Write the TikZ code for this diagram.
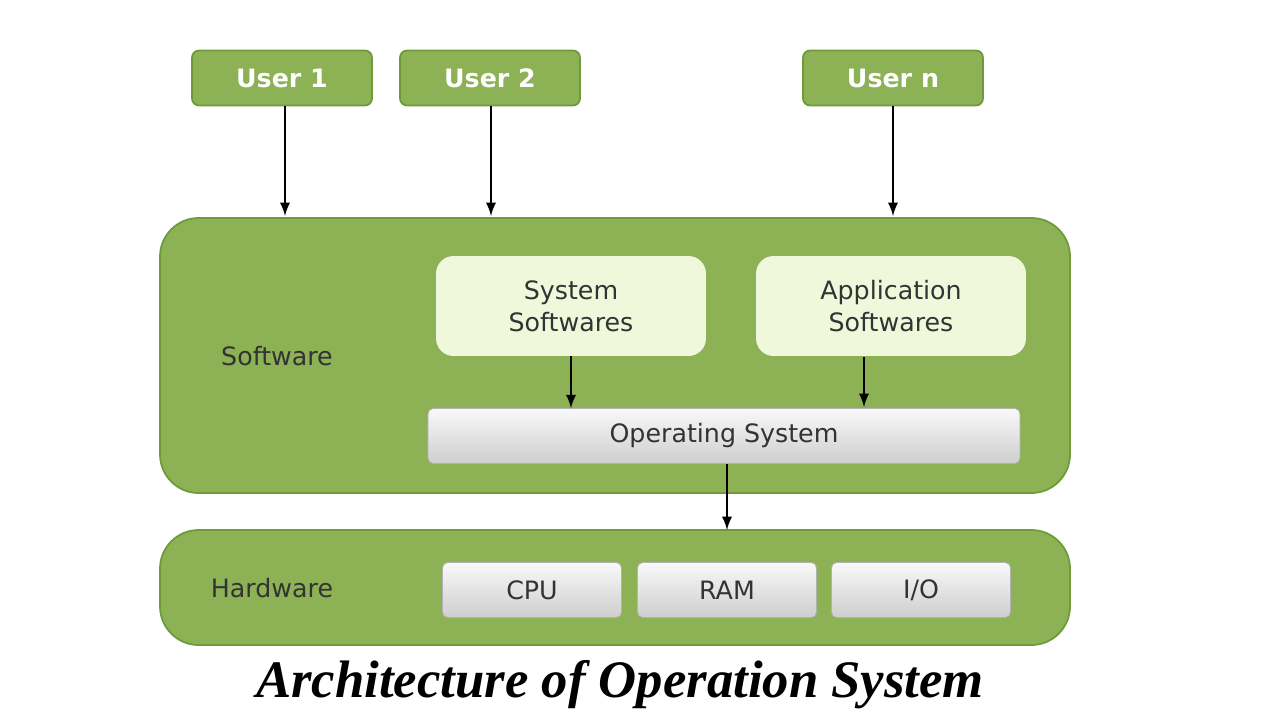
\documentclass[tikz,border=0pt]{standalone}
\usepackage{fontspec}
\setmainfont{DejaVu Sans}
\newfontfamily\titlefont{Liberation Serif}
\definecolor{osgreen}{HTML}{8DB255}
\definecolor{osedge}{HTML}{6E9A3A}
\definecolor{oslight}{HTML}{F0F8DC}
\definecolor{osgrey}{HTML}{DCDCDC}
\definecolor{ostext}{HTML}{333333}
\tikzset{
  user/.style={draw=osedge, fill=osgreen, rounded corners=4pt, line width=1pt,
    minimum width=3.6cm, minimum height=1.1cm, text=white, font=\bfseries\Large},
  layer/.style={draw=osedge, fill=osgreen, rounded corners=22pt, line width=1pt},
  soft/.style={fill=oslight, rounded corners=10pt, minimum width=5.4cm,
    minimum height=2cm, align=center, text=ostext, font=\Large, inner sep=1pt},
  part/.style={draw=gray!60, top color=white!95!gray, bottom color=osgrey!85!gray,
    rounded corners=3pt, minimum height=1.1cm, text=ostext, font=\Large},
  flow/.style={-latex, line width=1.6pt}
}
\begin{document}
\begin{tikzpicture}[x=0.02cm, y=-0.02cm]
  \useasboundingbox (0,0) rectangle (1280,720);
  % layers
  \draw[layer] (160,218) rectangle (1070,493);
  \draw[layer] (160,530) rectangle (1070,645);
  \node[text=ostext, font=\Large] (sw) at (277,356) {Software};
  \node[text=ostext, font=\Large] (hw) at (272,588) {Hardware};
  % users
  \node[user] (u1) at (282,78) {User 1};
  \node[user] (u2) at (490,78) {User 2};
  \node[user] (un) at (893,78) {User n};
  \coordinate (t1) at (285,216);
  \coordinate (t2) at (491,216);
  \coordinate (tn) at (893,216);
  \draw[flow] (u1.south -| t1) -- (t1);
  \draw[flow] (u2.south -| t2) -- (t2);
  \draw[flow] (un.south -| tn) -- (tn);
  % software
  \node[soft] (sys) at (571,306) {System\\Softwares};
  \node[soft] (app) at (891,306) {Application\\Softwares};
  \node[part, minimum width=11.84cm] (os) at (724,436) {Operating System};
  \draw[flow] (sys.south) -- (sys.south |- os.north);
  \draw[flow] (864,357) -- (864,407);
  % hardware
  \node[part, minimum width=3.58cm] (cpu) at (532,590) {CPU};
  \node[part, minimum width=3.58cm] (ram) at (727,590) {RAM};
  \node[part, minimum width=3.58cm] (io) at (921,590) {I/O};
  \coordinate (hwtop) at (727,530);
  \draw[flow] (os.south -| hwtop) -- (hwtop);
  % caption
  \node[font=\titlefont\bfseries\itshape\fontsize{30}{34}\selectfont] (cap) at (620,685)
    {Architecture of Operation System};
\end{tikzpicture}
\end{document}
